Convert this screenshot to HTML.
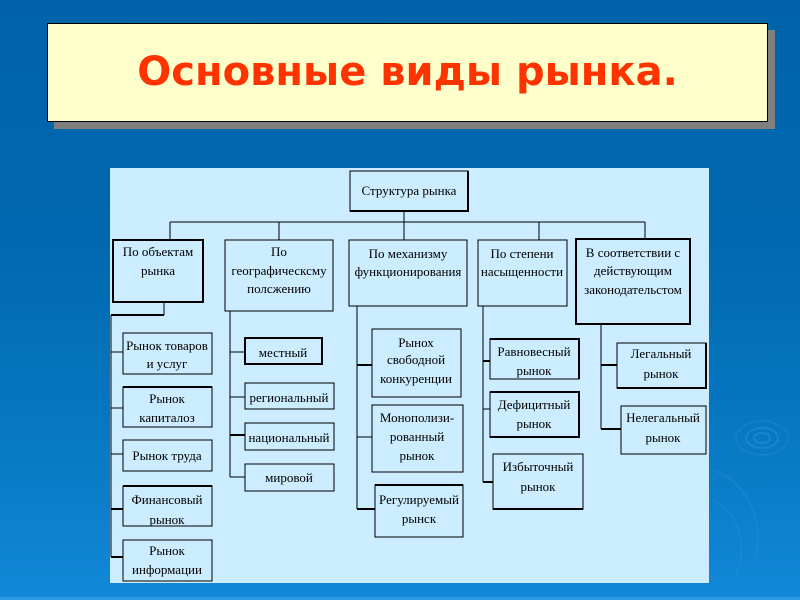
<!DOCTYPE html>
<html>
<head>
<meta charset="utf-8">
<style>
  html,body{margin:0;padding:0;}
  body{width:800px;height:600px;overflow:hidden;position:relative;
    background:linear-gradient(180deg,#0063a9 0%,#0068b0 40%,#0a7cc8 80%,#1288d8 100%);}
  .title{position:absolute;left:47px;top:23px;width:719px;height:97px;background:#ffffcc;border:1px solid #000;}
  .shadow{position:absolute;left:54px;top:30px;width:721px;height:99px;background:#808080;}
  .ttext{position:absolute;left:0;top:0;width:100%;text-align:center;
    font-family:"DejaVu Sans","Liberation Sans",sans-serif;font-weight:bold;font-size:40px;
    color:#ff3300;line-height:1;padding-top:28px;}
  svg{position:absolute;left:0;top:0;}
  text{font-family:"Liberation Serif","DejaVu Serif",serif;font-size:13px;fill:#000;text-anchor:middle;}
</style>
</head>
<body>
<svg width="800" height="600" viewBox="0 0 800 600">
  <g fill="none" stroke="#3d9ae0" stroke-opacity="0.35" stroke-width="2">
    <ellipse cx="762" cy="438" rx="8" ry="5"/>
    <ellipse cx="762" cy="438" rx="16" ry="10"/>
    <ellipse cx="762" cy="438" rx="26" ry="17" stroke-opacity="0.2"/>
    <path d="M712 470 A60 70 0 0 1 755 560" stroke-opacity="0.2"/>
    <path d="M712 500 A40 50 0 0 1 735 575" stroke-opacity="0.2"/>
  </g>
  <rect x="0" y="597" width="800" height="3" fill="#2a9ae6"/>
</svg>
<div class="shadow"></div>
<div class="title"><div class="ttext">Основные виды рынка.</div></div>

<svg width="800" height="600" viewBox="0 0 800 600">
  <rect x="110" y="168" width="599" height="415" fill="#ccecff"/>
  <g stroke="#000" stroke-width="1.3" fill="none" shape-rendering="crispEdges">
    <!-- top connectors -->
    <line x1="404" y1="211" x2="404" y2="222"/>
    <line x1="170" y1="222" x2="645" y2="222"/>
    <line x1="170" y1="222" x2="170" y2="240"/>
    <line x1="279" y1="222" x2="279" y2="240"/>
    <line x1="404" y1="222" x2="404" y2="240"/>
    <line x1="539" y1="222" x2="539" y2="240"/>
    <line x1="645" y1="222" x2="645" y2="239"/>
    <!-- column 1 -->
    <line x1="164" y1="302" x2="164" y2="315"/>
    <line x1="111" y1="315" x2="164" y2="315" stroke-width="2"/>
    <line x1="111" y1="315" x2="111" y2="557"/>
    <line x1="111" y1="352" x2="123" y2="352"/>
    <line x1="111" y1="408" x2="123" y2="408"/>
    <line x1="111" y1="454" x2="123" y2="454"/>
    <line x1="111" y1="509" x2="123" y2="509" stroke-width="2"/>
    <line x1="111" y1="557" x2="123" y2="557" stroke-width="2"/>
    <!-- column 2 -->
    <line x1="230" y1="311" x2="230" y2="477"/>
    <line x1="230" y1="352" x2="245" y2="352"/>
    <line x1="230" y1="397" x2="245" y2="397"/>
    <line x1="230" y1="435" x2="245" y2="435" stroke-width="2"/>
    <line x1="230" y1="477" x2="245" y2="477"/>
    <!-- column 3 -->
    <line x1="357" y1="306" x2="357" y2="509"/>
    <line x1="357" y1="365" x2="372" y2="365" stroke-width="2"/>
    <line x1="357" y1="437" x2="372" y2="437"/>
    <line x1="357" y1="509" x2="375" y2="509" stroke-width="2"/>
    <!-- column 4 -->
    <line x1="483" y1="306" x2="483" y2="482"/>
    <line x1="483" y1="361" x2="490" y2="361" stroke-width="2"/>
    <line x1="483" y1="409" x2="490" y2="409"/>
    <line x1="483" y1="482" x2="493" y2="482" stroke-width="2"/>
    <!-- column 5 -->
    <line x1="601" y1="324" x2="601" y2="429"/>
    <line x1="601" y1="365" x2="617" y2="365" stroke-width="2"/>
    <line x1="601" y1="429" x2="621" y2="429" stroke-width="2"/>

    <!-- boxes -->
    <rect x="350" y="171" width="118" height="40"/>
    <polyline points="468,171 468,211 350,211" stroke-width="2"/>
    <rect x="113" y="240" width="90" height="62" stroke-width="2"/>
    <rect x="225" y="240" width="108" height="71"/>
    <rect x="349" y="240" width="118" height="66"/>
    <rect x="478" y="240" width="89" height="66"/>
    <rect x="576" y="239" width="114" height="85" stroke-width="2"/>

    <rect x="123" y="333" width="89" height="41"/>
    <rect x="123" y="387" width="89" height="40"/>
    <line x1="123" y1="387" x2="212" y2="387" stroke-width="2"/>
    <rect x="123" y="440" width="89" height="31"/>
    <rect x="123" y="486" width="89" height="40"/>
    <line x1="123" y1="486" x2="212" y2="486" stroke-width="2"/>
    <rect x="123" y="540" width="89" height="41"/>

    <rect x="245" y="338" width="77" height="26" stroke-width="2"/>
    <rect x="245" y="383" width="89" height="26"/>
    <rect x="245" y="423" width="89" height="27"/>
    <rect x="245" y="464" width="89" height="27"/>

    <rect x="372" y="329" width="89" height="68"/>
    <rect x="372" y="405" width="91" height="67"/>
    <rect x="375" y="485" width="88" height="52"/>
    <line x1="375" y1="485" x2="463" y2="485" stroke-width="2"/>

    <rect x="490" y="339" width="89" height="40"/>
    <polyline points="490,339 579,339 579,379" stroke-width="2"/>
    <rect x="490" y="392" width="89" height="45"/>
    <polyline points="490,392 579,392 579,437 490,437" stroke-width="2"/>
    <rect x="493" y="454" width="90" height="55"/>
    <line x1="493" y1="509" x2="583" y2="509" stroke-width="2"/>

    <rect x="617" y="343" width="89" height="45"/>
    <polyline points="706,343 706,388 617,388" stroke-width="2"/>
    <rect x="621" y="406" width="85" height="48"/>
  </g>

  <!-- texts -->
  <text x="409" y="195">Структура рынка</text>

  <text x="158" y="256">По объектам</text>
  <text x="158" y="275">рынка</text>

  <text x="279" y="256">По</text>
  <text x="279" y="275">географическсму</text>
  <text x="279" y="293">полсжению</text>

  <text x="408" y="258">По механизму</text>
  <text x="408" y="276">функционирования</text>

  <text x="522" y="258">По степени</text>
  <text x="522" y="276">насыщенности</text>

  <text x="633" y="257">В соответствии с</text>
  <text x="633" y="275">действующим</text>
  <text x="633" y="294">законодательстом</text>

  <text x="167" y="350">Рынок товаров</text>
  <text x="167" y="368">и услуг</text>
  <text x="167" y="403">Рынок</text>
  <text x="167" y="422">капиталоз</text>
  <text x="167" y="460">Рынок труда</text>
  <text x="167" y="504">Финансовый</text>
  <text x="167" y="524">рынок</text>
  <text x="167" y="555">Рынок</text>
  <text x="167" y="574">информации</text>

  <text x="283" y="357">местный</text>
  <text x="289" y="402">региональный</text>
  <text x="289" y="442">национальный</text>
  <text x="289" y="482">мировой</text>

  <text x="416" y="347">Рынох</text>
  <text x="416" y="364">свободной</text>
  <text x="416" y="383">конкуренции</text>
  <text x="417" y="422">Монополизи-</text>
  <text x="417" y="441">рованный</text>
  <text x="417" y="460">рынок</text>
  <text x="419" y="504">Регулируемый</text>
  <text x="419" y="523">рынск</text>

  <text x="534" y="356">Равновесный</text>
  <text x="534" y="375">рынок</text>
  <text x="534" y="409">Дефицитный</text>
  <text x="534" y="428">рынок</text>
  <text x="538" y="471">Избыточный</text>
  <text x="538" y="491">рынок</text>

  <text x="661" y="358">Легальный</text>
  <text x="661" y="378">рынок</text>
  <text x="663" y="422">Нелегальный</text>
  <text x="663" y="442">рынок</text>
</svg>
</body>
</html>
